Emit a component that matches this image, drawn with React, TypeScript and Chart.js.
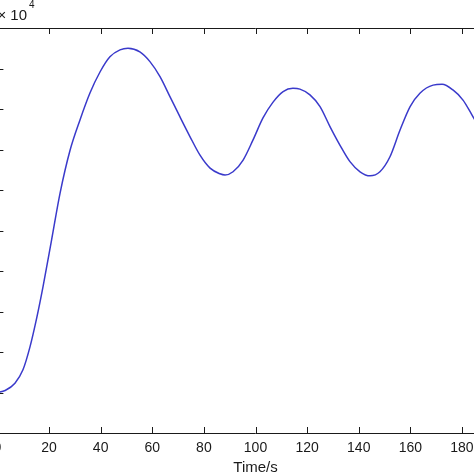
import React, { useEffect, useRef } from "react";
import { Chart, registerables } from "chart.js";

Chart.register(...registerables);

const timeValues = [0, 3, 6.8, 9.9, 12.6, 15.3, 17.7, 21.0, 24.3, 28.1, 32.0, 35.9, 39.8, 43.6, 47.5, 50.6, 55.2, 59.1, 63.0, 66.9, 70.7, 74.6, 78.5, 82.4, 86.2, 88.2, 91.3, 95.2, 99.0, 102.9, 106.8, 110.7, 114.5, 117.2, 121.1, 125.0, 128.9, 132.7, 136.6, 140.5, 144.4, 148.2, 152.1, 156.0, 159.9, 163.7, 168.8, 172.3, 176.5, 180.4, 183.9, 190, 200];
const responseValues = [1.0, 1.05, 1.23, 1.56, 2.12, 2.86, 3.62, 4.77, 5.93, 6.97, 7.73, 8.4, 8.92, 9.29, 9.46, 9.5, 9.41, 9.17, 8.8, 8.3, 7.81, 7.32, 6.86, 6.54, 6.4, 6.37, 6.45, 6.74, 7.23, 7.78, 8.17, 8.43, 8.51, 8.49, 8.35, 8.06, 7.56, 7.11, 6.7, 6.45, 6.35, 6.45, 6.82, 7.48, 8.06, 8.39, 8.59, 8.61, 8.47, 8.22, 7.85, 7.2, 6.6];
const xTickStep = 20;
const yTickStep = 1;
const xTitle = "Time/s";
const exponentBase = "\u00d7 10";
const exponentPower = "4";

const W = 580;
const H = 477;
const OFFSET_X = -40;

const boxPlugin = {
  id: "matlabBox",
  afterDraw(chart: any) {
    const { ctx, chartArea } = chart;
    const { left, right, top, bottom } = chartArea;
    const xs = chart.scales.x;
    const ys = chart.scales.y;
    ctx.save();
    ctx.strokeStyle = "#1a1a1a";
    ctx.lineWidth = 1;
    ctx.beginPath();
    ctx.rect(Math.round(left) + 0.5, Math.round(top) + 0.5, Math.round(right - left), Math.round(bottom - top));
    ctx.stroke();
    const tl = 6;
    ctx.beginPath();
    xs.ticks.forEach((t: any) => {
      const px = Math.round(xs.getPixelForValue(t.value)) + 0.5;
      ctx.moveTo(px, bottom);
      ctx.lineTo(px, bottom - tl);
      ctx.moveTo(px, top);
      ctx.lineTo(px, top + tl);
    });
    ys.ticks.forEach((t: any) => {
      const py = Math.round(ys.getPixelForValue(t.value)) + 0.5;
      ctx.moveTo(left, py);
      ctx.lineTo(left + tl, py);
      ctx.moveTo(right, py);
      ctx.lineTo(right - tl, py);
    });
    ctx.stroke();
    ctx.fillStyle = "#1a1a1a";
    ctx.font = "15px 'Liberation Sans', Arial, sans-serif";
    ctx.textAlign = "right";
    ctx.textBaseline = "alphabetic";
    ctx.fillText(exponentBase, 67, 20);
    ctx.font = "10px 'Liberation Sans', Arial, sans-serif";
    ctx.textAlign = "left";
    ctx.fillText(exponentPower, 69, 8);
    ctx.restore();
  },
};

export default function App() {
  const ref = useRef<HTMLCanvasElement | null>(null);
  useEffect(() => {
    if (!ref.current) return;
    const data = timeValues.map((t, i) => ({ x: t, y: responseValues[i] }));
    const chart = new Chart(ref.current, {
      type: "line",
      data: {
        datasets: [
          {
            data,
            borderColor: "#3a3acb",
            borderWidth: 1.5,
            pointRadius: 0,
            fill: false,
            cubicInterpolationMode: "monotone",
          },
        ],
      },
      options: {
        animation: false,
        responsive: false,
        maintainAspectRatio: false,
        layout: { padding: { left: 37.4, right: 26.4, top: 28, bottom: 0 } },
        plugins: { legend: { display: false }, tooltip: { enabled: false } },
        scales: {
          x: {
            type: "linear",
            min: 0,
            max: 200,
            ticks: {
              stepSize: xTickStep,
              color: "#1a1a1a",
              padding: 6.5,
              maxRotation: 0,
              font: { family: "'Liberation Sans', Arial, sans-serif", size: 14 },
            },
            grid: { display: false, drawTicks: false },
            border: { display: false },
            title: {
              display: true,
              text: xTitle,
              color: "#1a1a1a",
              padding: { top: 0, bottom: 0 },
              font: { family: "'Liberation Sans', Arial, sans-serif", size: 15 },
            },
            afterFit(scale: any) {
              scale.height = H - 433;
            },
          },
          y: {
            type: "linear",
            min: 0,
            max: 10,
            display: false,
            ticks: { stepSize: yTickStep },
          },
        },
      },
      plugins: [boxPlugin],
    } as any);
    return () => chart.destroy();
  }, []);
  return (
    <div style={{ position: "fixed", left: OFFSET_X, top: 0, width: W, height: H, background: "#fff" }}>
      <canvas ref={ref} width={W} height={H} style={{ width: W, height: H, display: "block" }} />
    </div>
  );
}
